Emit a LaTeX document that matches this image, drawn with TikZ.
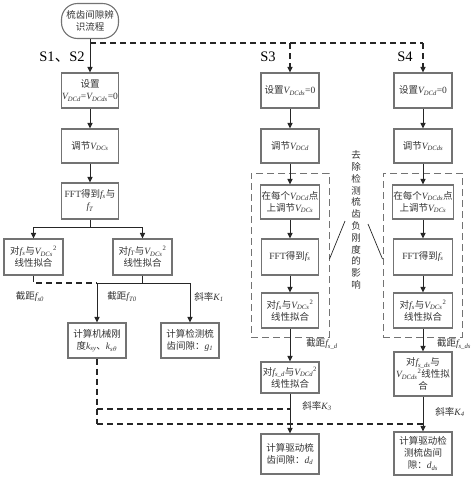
\documentclass[tikz,border=0pt]{standalone}
\usepackage{fontspec}
\setmainfont{Liberation Serif}
\newfontfamily\cjk{Noto Sans CJK SC}
\usetikzlibrary{arrows.meta}
\newcommand\vv[2]{{\rmfamily\itshape #1\textsubscript{#2}}}
\newcommand\lt[1]{{\rmfamily #1}}
\newcommand\sqr{{\rmfamily\textsuperscript{2}}}
\definecolor{boxc}{HTML}{737373}
\definecolor{linec}{HTML}{262626}
\definecolor{txt}{HTML}{333333}
\tikzset{
  box/.style={draw=boxc, line width=1.1pt, fill=white, minimum width=57pt, minimum height=35pt,
    inner sep=1pt, align=center, font=\cjk\fontsize{9.5}{12}\selectfont, text=txt},
  startbox/.style={box, rounded corners=16pt},
  line/.style={draw=linec, line width=1pt},
  arr/.style={line, -{Triangle[length=5.5pt,width=5pt]}},
  dline/.style={draw=linec, line width=1.2pt, dash pattern=on 6pt off 4pt},
  grp/.style={draw=boxc, line width=1pt, dash pattern=on 7pt off 4pt, inner sep=0pt},
  lbl/.style={font=\cjk\fontsize{9.5}{12}\selectfont, text=txt, inner sep=0pt},
  slbl/.style={font=\fontsize{14.5}{16}\selectfont, text=black, inner sep=0pt},
}
\begin{document}
\begin{tikzpicture}[x=1pt, y=-1pt]
\useasboundingbox (0,0) rectangle (474,477);
% group frames
\node[grp, minimum width=78pt, minimum height=164pt] (ga) at (290,255) {};
\node[grp, minimum width=79pt, minimum height=164pt] (gb) at (422.5,255) {};
% left column
\node[startbox] (st) at (90,21) {梳齿间隙辨\\识流程};
\node[box] (l1) at (90,90.5) {设置\\\vv{V}{DCd}\lt{=}\vv{V}{DCds}\lt{=0}};
\node[box, minimum height=34pt] (l2) at (90,146) {调节\vv{V}{DCs}};
\node[box, minimum height=36pt] (l3) at (90,201) {\lt{FFT}得到\vv{f}{s}与\\\vv{f}{T}};
\node[box, minimum width=59pt, minimum height=36pt] (l4a) at (33.5,257) {对\vv{f}{s}与\vv{V}{DCs}\sqr\\线性拟合};
\node[box, minimum width=59pt, minimum height=36pt] (l4b) at (142.5,257) {对\vv{f}{T}与\vv{V}{DCs}\sqr\\线性拟合};
\node[box, minimum width=58pt] (l5a) at (97,340.5) {计算机械刚\\度\vv{k}{sy}、\vv{k}{s$\theta$}};
\node[box, minimum width=58pt] (l5b) at (190,340.5) {计算检测梳\\齿间隙：\vv{g}{1}};
% S3 column
\node[box, minimum width=58pt] (a1) at (290,90.5) {设置\vv{V}{DCds}\lt{=0}};
\node[box, minimum width=58pt, minimum height=34pt] (a2) at (290,146) {调节\vv{V}{DCd}};
\node[box, minimum height=34pt] (a3) at (290,202) {在每个\vv{V}{DCd}点\\上调节\vv{V}{DCs}};
\node[box, minimum height=36pt] (a4) at (290,257) {\lt{FFT}得到\vv{f}{s}};
\node[box] (a5) at (290,310.5) {对\vv{f}{s}与\vv{V}{DCs}\sqr\\线性拟合};
\node[box, minimum width=58pt, minimum height=31pt] (a6) at (290,377.5) {对\vv{f}{s\_d}与\vv{V}{DCd}\sqr\\线性拟合};
\node[box, minimum width=58pt, minimum height=40pt] (a7) at (290,454) {计算驱动梳\\齿间隙：\vv{d}{d}};
% S4 column
\node[box, minimum width=58pt] (b1) at (423,90.5) {设置\vv{V}{DCd}\lt{=0}};
\node[box, minimum width=58pt, minimum height=34pt] (b2) at (423,146) {调节\vv{V}{DCds}};
\node[box, minimum width=59pt, minimum height=34pt] (b3) at (423,202) {在每个\vv{V}{DCds}点\\上调节\vv{V}{DCs}};
\node[box, minimum width=59pt, minimum height=36pt] (b4) at (423,257) {\lt{FFT}得到\vv{f}{s}};
\node[box, minimum width=59pt] (b5) at (423,310.5) {对\vv{f}{s}与\vv{V}{DCs}\sqr\\线性拟合};
\node[box, minimum width=58pt, minimum height=44pt] (b6) at (423,374) {对\vv{f}{s\_ds}与\\\vv{V}{DCds}\sqr 线性拟\\合};
\node[box, minimum width=58pt, minimum height=43pt] (b7) at (423,453.5) {计算驱动检\\测梳齿间\\隙：\vv{d}{ds}};
% step labels
\node[slbl] (s12) at (62,57) {S1{\cjk 、}S2};
\node[slbl] (s3) at (268,57) {S3};
\node[slbl] (s4) at (405,57) {S4};
% edge labels
\node[lbl] (k0) at (30,297) {截距\vv{f}{s0}};
\node[lbl] (kT) at (122,297) {截距\vv{f}{T0}};
\node[lbl] (k1) at (209,297) {斜率\vv{K}{1}};
\node[lbl] (kd) at (322,344) {截距\vv{f}{s\_d}};
\node[lbl] (k3) at (317,406) {斜率\vv{K}{3}};
\node[lbl] (kds) at (454,344) {截距\vv{f}{s\_ds}};
\node[lbl] (k4) at (450,412) {斜率\vv{K}{4}};
% vertical note
\node[lbl, align=center, font=\cjk\fontsize{9.5}{11.8}\selectfont] (note) at (356,220)
  {去\\除\\检\\测\\梳\\齿\\负\\刚\\度\\的\\影\\响};
\coordinate (nl1) at (345,221);
\coordinate (nl2) at (368,224);
\draw[line, line width=0.7pt] (nl1) -- (ga.east |- 0,259);
\draw[line, line width=0.7pt] (nl2) -- (gb.west |- 0,259);
% left column connectors
\draw[arr] (st) -- (l1);
\draw[arr] (l1) -- (l2);
\draw[arr] (l2) -- (l3);
\coordinate (sp1) at (90,227);
\draw[line] (l3) -- (sp1);
\draw[arr] (sp1) -| (l4a.north);
\draw[arr] (sp1) -| (l4b.north);
\coordinate (j1) at (97,283);
\coordinate (j2) at (142.5,283);
\draw[dline] (l4a.south) |- (j1);
\draw[line] (l4b.south) -- (j2);
\draw[line] (j1) -- (j2);
\draw[arr] (j2) -| (l5b.north);
\draw[arr] (j1) -- (l5a.north);
% dashed branches from start
\coordinate (d0) at (90,43);
\draw[dline] (d0) -- (423,43);
\draw[dline, -{Triangle[length=5.5pt,width=5pt]}] (290,43) -- (a1.north);
\draw[dline, -{Triangle[length=5.5pt,width=5pt]}] (423,43) -- (b1.north);
% S3 connectors
\draw[arr] (a1) -- (a2);
\draw[arr] (a2) -- (a3);
\draw[arr] (a3) -- (a4);
\draw[arr] (a4) -- (a5);
\draw[arr] (a5) -- (a6);
\draw[arr] (a6) -- (a7);
% S4 connectors
\draw[arr] (b1) -- (b2);
\draw[arr] (b2) -- (b3);
\draw[arr] (b3) -- (b4);
\draw[arr] (b4) -- (b5);
\draw[arr] (b5) -- (b6);
\draw[arr] (b6) -- (b7);
% dashed from mechanical stiffness
\coordinate (m1) at (97,409);
\coordinate (m2) at (97,424);
\draw[dline] (l5a.south) -- (m2);
\draw[dline] (m1) -- (a6.south |- m1);
\draw[dline] (m2) -- (b7.north |- m2);
\end{tikzpicture}
\end{document}
